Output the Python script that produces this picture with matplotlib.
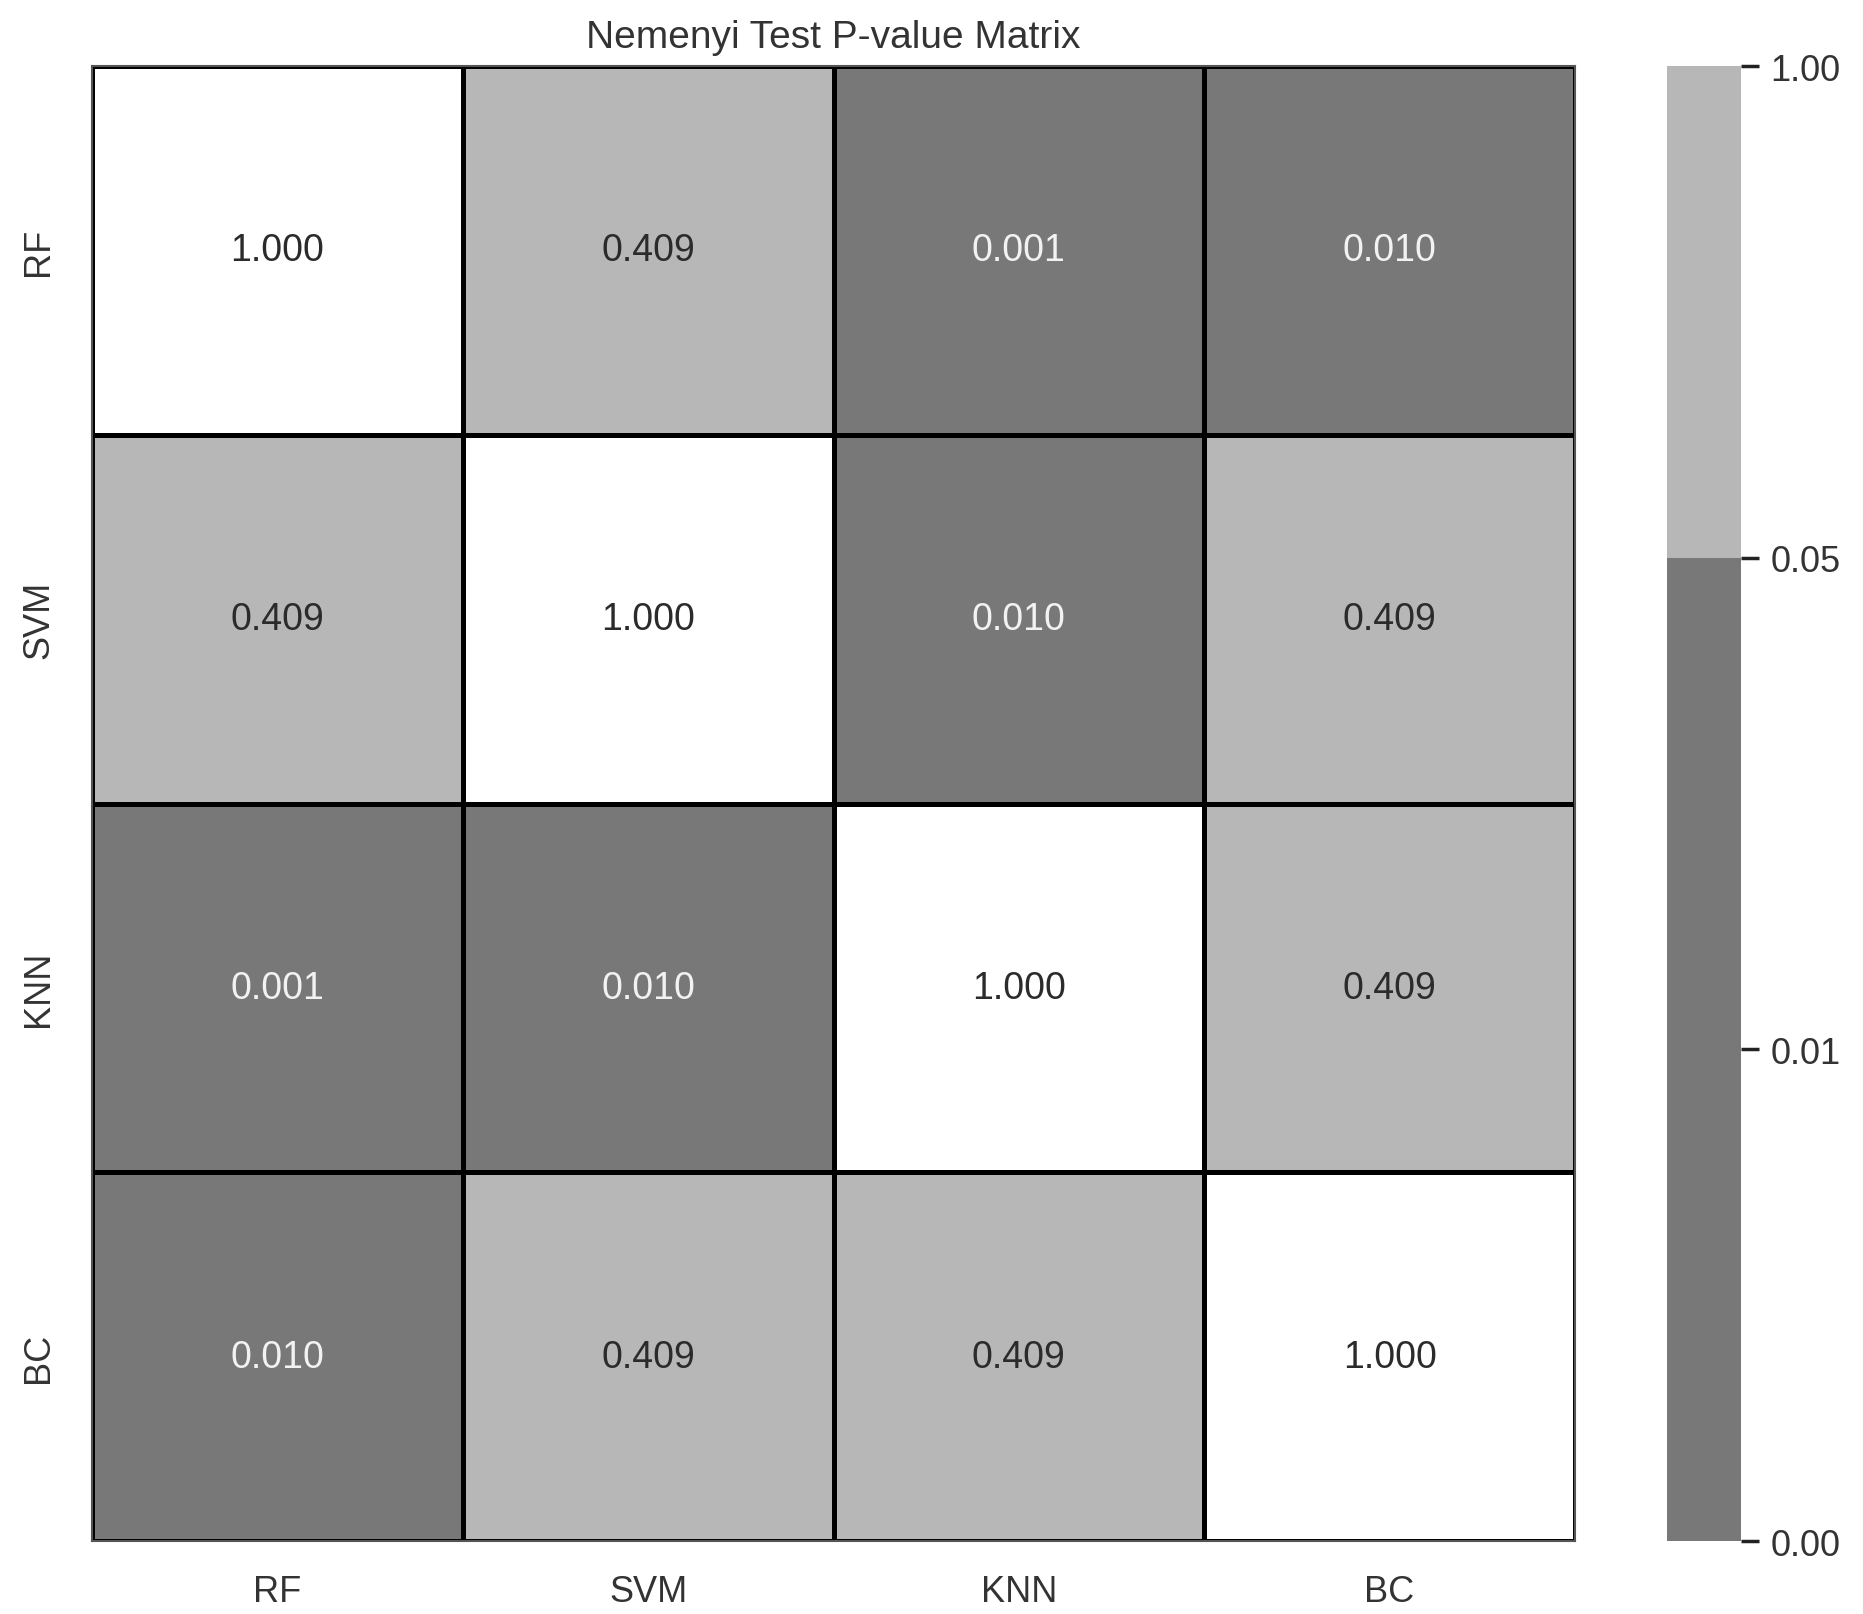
import numpy as np
import matplotlib
matplotlib.use("Agg")
import matplotlib.pyplot as plt
from matplotlib.colors import ListedColormap, BoundaryNorm

# Data
models = ["RF", "SVM", "KNN", "BC"]
p_values = [
    [1.000, 0.409, 0.001, 0.010],
    [0.409, 1.000, 0.010, 0.409],
    [0.001, 0.010, 1.000, 0.409],
    [0.010, 0.409, 0.409, 1.000],
]
boundaries = [0.0, 0.01, 0.05, 1.0]
bound_labels = ["0.00", "0.01", "0.05", "1.00"]

plt.rcParams["font.family"] = ["Liberation Sans", "DejaVu Sans"]

matrix = np.array(p_values)

# discrete grey map, values of 1.0 fall into "over" -> white diagonal
cmap = ListedColormap(["#787878", "#787878", "#b7b7b7"])
cmap.set_over("white")
norm = BoundaryNorm(boundaries, cmap.N)

fig = plt.figure(figsize=(18.63, 16.15), dpi=100)
ax = fig.add_axes([0.0494, 0.0452, 0.796, 0.9133])
cax = fig.add_axes([0.8948, 0.0452, 0.0397, 0.9133])

mesh = ax.pcolormesh(matrix, cmap=cmap, norm=norm,
                     edgecolors="black", linewidth=2.2)
ax.set_xlim(0, len(models))
ax.set_ylim(len(models), 0)

# cell annotations
for i in range(len(models)):
    for j in range(len(models)):
        val = matrix[i, j]
        color = "#f2f2f2" if val < 0.05 else "#2b2b2b"
        ax.text(j + 0.5, i + 0.5, f"{val:.3f}", ha="center", va="center",
                fontsize=27, color=color)

ax.set_xticks(np.arange(len(models)) + 0.5)
ax.set_yticks(np.arange(len(models)) + 0.5)
ax.set_xticklabels(models, fontsize=26, color="#333333")
ax.set_yticklabels(models, fontsize=26, color="#333333", rotation=90, va="center")
ax.tick_params(axis="both", length=0)
ax.tick_params(axis="x", pad=24)
ax.tick_params(axis="y", pad=26)
for spine in ax.spines.values():
    spine.set_color("#555555")
    spine.set_linewidth(1.5)

ax.set_title("Nemenyi Test P-value Matrix", fontsize=28, color="#333333", pad=14)

# colorbar with evenly spaced boundaries
cbar = fig.colorbar(mesh, cax=cax, boundaries=boundaries, spacing="uniform")
cbar.set_ticks(boundaries)
cbar.set_ticklabels(bound_labels)
cbar.outline.set_visible(False)
cbar.ax.tick_params(labelsize=26, labelcolor="#333333", length=13, width=2.5,
                    color="#222222", pad=8)

fig.savefig("out.png", dpi=100, facecolor="white")
